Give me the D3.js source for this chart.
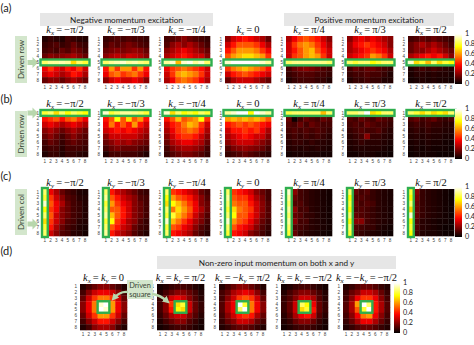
<!DOCTYPE html>
<html><head><meta charset="utf-8">
<script src="https://cdn.jsdelivr.net/npm/d3@7"></script>
<style>body{margin:0;background:#fff;} svg{display:block;}</style>
</head><body>
<svg id="c" width="474" height="345"></svg>
<script>
const ticks = [1,2,3,4,5,6,7,8];
const cbTicks = [0,0.2,0.4,0.6,0.8,1];
const titlesA = ["k_x = −π/2","k_x = −π/3","k_x = −π/4","k_x = 0","k_x = π/4","k_x = π/3","k_x = π/2"];
const titlesB = ["k_x = −π/2","k_x = −π/3","k_x = −π/4","k_x = 0","k_x = π/4","k_x = π/3","k_x = π/2"];
const titlesC = ["k_y = −π/2","k_y = −π/3","k_y = −π/4","k_y = 0","k_y = π/4","k_y = π/3","k_y = π/2"];
const titlesD = ["k_x = k_y = 0","k_x = k_y = π/2","k_x = −k_y = π/2","k_x = k_y = −π/2","k_x = −k_y = −π/2"];
const headers = ["Negative momentum excitation","Positive momentum excitation","Non-zero input momentum on both x and y"];

const dataA = [
[[0.05,0.08,0.06,0.05,0.1,0.08,0.06,0.05],[0.08,0.1,0.12,0.08,0.1,0.15,0.1,0.08],[0.1,0.12,0.1,0.15,0.12,0.18,0.15,0.1],[0.15,0.2,0.18,0.2,0.22,0.25,0.2,0.15],[0.85,0.9,0.9,0.92,0.9,0.7,0.85,0.8],[0.35,0.45,0.35,0.3,0.4,0.35,0.45,0.3],[0.3,0.35,0.3,0.25,0.3,0.4,0.35,0.25],[0.15,0.2,0.2,0.15,0.2,0.25,0.2,0.15]],
[[0.08,0.1,0.12,0.1,0.12,0.1,0.1,0.08],[0.1,0.15,0.12,0.15,0.18,0.15,0.12,0.1],[0.15,0.18,0.2,0.18,0.2,0.22,0.2,0.15],[0.2,0.25,0.28,0.25,0.3,0.28,0.25,0.2],[0.85,0.9,0.92,0.95,0.9,0.92,0.88,0.85],[0.4,0.6,0.45,0.6,0.6,0.45,0.6,0.4],[0.35,0.5,0.55,0.45,0.5,0.55,0.45,0.35],[0.2,0.3,0.35,0.3,0.3,0.35,0.3,0.2]],
[[0.1,0.12,0.15,0.2,0.15,0.12,0.1,0.08],[0.12,0.2,0.25,0.2,0.25,0.2,0.15,0.1],[0.2,0.25,0.3,0.35,0.3,0.25,0.2,0.15],[0.25,0.3,0.35,0.4,0.35,0.3,0.3,0.2],[0.9,0.95,0.65,0.95,0.98,0.9,0.95,0.85],[0.35,0.45,0.5,0.55,0.5,0.45,0.4,0.3],[0.3,0.45,0.6,0.65,0.6,0.55,0.45,0.3],[0.25,0.35,0.5,0.55,0.5,0.45,0.35,0.25]],
[[0.2,0.3,0.35,0.4,0.35,0.3,0.25,0.15],[0.3,0.4,0.5,0.5,0.5,0.45,0.35,0.25],[0.4,0.5,0.6,0.6,0.6,0.55,0.45,0.35],[0.5,0.6,0.65,0.7,0.7,0.65,0.6,0.45],[0.95,1,1,1,1,1,0.95,0.9],[0.45,0.55,0.6,0.65,0.6,0.55,0.5,0.4],[0.3,0.4,0.45,0.5,0.45,0.4,0.35,0.3],[0.15,0.25,0.3,0.3,0.3,0.25,0.2,0.15]],
[[0.25,0.35,0.45,0.5,0.45,0.4,0.3,0.2],[0.3,0.45,0.55,0.6,0.55,0.45,0.35,0.25],[0.3,0.4,0.5,0.6,0.65,0.5,0.4,0.3],[0.3,0.45,0.5,0.6,0.65,0.6,0.45,0.3],[0.85,0.88,0.88,0.88,0.88,0.88,0.88,0.85],[0.1,0.15,0.18,0.2,0.18,0.15,0.12,0.1],[0.08,0.1,0.12,0.12,0.12,0.1,0.1,0.08],[0.05,0.08,0.1,0.1,0.1,0.08,0.08,0.05]],
[[0.2,0.3,0.35,0.3,0.35,0.3,0.25,0.2],[0.25,0.35,0.4,0.45,0.4,0.35,0.3,0.2],[0.25,0.3,0.35,0.4,0.45,0.4,0.35,0.25],[0.3,0.35,0.4,0.45,0.6,0.55,0.45,0.3],[0.85,0.8,0.85,0.85,0.75,0.8,0.85,0.85],[0.1,0.15,0.12,0.15,0.15,0.12,0.1,0.08],[0.08,0.1,0.1,0.12,0.1,0.1,0.08,0.05],[0.05,0.08,0.08,0.1,0.08,0.08,0.05,0.05]],
[[0.1,0.12,0.15,0.12,0.15,0.12,0.1,0.08],[0.15,0.2,0.25,0.2,0.25,0.2,0.15,0.1],[0.15,0.2,0.2,0.25,0.3,0.25,0.2,0.15],[0.25,0.3,0.35,0.4,0.35,0.4,0.3,0.2],[0.95,0.7,0.8,0.65,0.85,0.7,0.8,0.75],[0.05,0.08,0.1,0.08,0.1,0.08,0.06,0.05],[0.04,0.06,0.06,0.05,0.06,0.05,0.05,0.04],[0.03,0.04,0.05,0.04,0.05,0.04,0.04,0.03]]
];

const dataB = [
[[0.8,0.85,0.7,0.85,0.75,0.85,0.8,0.75],[0.4,0.45,0.5,0.4,0.5,0.55,0.45,0.35],[0.3,0.35,0.3,0.25,0.3,0.35,0.3,0.25],[0.2,0.25,0.2,0.15,0.2,0.25,0.2,0.15],[0.15,0.2,0.15,0.1,0.15,0.2,0.15,0.12],[0.1,0.15,0.12,0.08,0.12,0.15,0.12,0.1],[0.08,0.1,0.1,0.06,0.1,0.1,0.1,0.08],[0.05,0.08,0.08,0.05,0.08,0.08,0.06,0.05]],
[[0.95,0.8,0.85,0.9,0.9,0.88,0.85,0.8],[0.4,0.5,0.75,0.5,0.7,0.5,0.6,0.4],[0.35,0.55,0.4,0.5,0.4,0.6,0.4,0.3],[0.3,0.35,0.4,0.35,0.4,0.35,0.3,0.25],[0.2,0.3,0.3,0.3,0.3,0.3,0.25,0.2],[0.15,0.2,0.25,0.22,0.25,0.2,0.18,0.15],[0.1,0.15,0.18,0.15,0.15,0.15,0.12,0.1],[0.05,0.1,0.1,0.1,0.1,0.1,0.08,0.05]],
[[0.95,0.7,0.85,0.75,0.8,0.75,0.85,0.8],[0.4,0.5,0.65,0.5,0.55,0.6,0.75,0.45],[0.3,0.4,0.45,0.55,0.65,0.6,0.45,0.3],[0.25,0.35,0.45,0.5,0.55,0.5,0.4,0.25],[0.2,0.3,0.4,0.45,0.45,0.4,0.3,0.2],[0.15,0.25,0.3,0.35,0.35,0.3,0.25,0.15],[0.1,0.18,0.22,0.25,0.25,0.22,0.18,0.1],[0.08,0.12,0.15,0.18,0.18,0.15,0.12,0.08]],
[[0.9,0.95,1,1,0.75,1,0.95,0.9],[0.6,0.65,0.6,0.65,0.6,0.65,0.6,0.5],[0.4,0.45,0.5,0.45,0.5,0.45,0.4,0.35],[0.3,0.4,0.4,0.45,0.4,0.45,0.35,0.25],[0.25,0.3,0.35,0.4,0.35,0.3,0.3,0.2],[0.2,0.25,0.3,0.3,0.3,0.25,0.2,0.15],[0.12,0.18,0.2,0.22,0.2,0.18,0.15,0.1],[0.08,0.1,0.12,0.15,0.12,0.1,0.08,0.06]],
[[0.82,0.85,0.85,0.85,0.85,0.85,0.65,0.85],[0.15,0.02,0.1,0.15,0.12,0.1,0.15,0.12],[0.12,0.1,0.15,0.1,0.15,0.12,0.1,0.1],[0.1,0.12,0.1,0.12,0.1,0.12,0.1,0.08],[0.08,0.1,0.08,0.1,0.08,0.1,0.08,0.06],[0.06,0.08,0.08,0.06,0.08,0.06,0.06,0.05],[0.05,0.06,0.05,0.06,0.05,0.06,0.05,0.04],[0.03,0.04,0.04,0.04,0.04,0.04,0.03,0.03]],
[[0.85,0.85,0.9,1,0.7,0.75,0.85,0.85],[0.12,0.1,0.15,0.12,0.1,0.15,0.12,0.1],[0.1,0.12,0.1,0.15,0.12,0.1,0.1,0.08],[0.08,0.1,0.12,0.1,0.1,0.12,0.08,0.06],[0.06,0.08,0.1,0.2,0.08,0.08,0.06,0.05],[0.05,0.06,0.08,0.06,0.06,0.06,0.05,0.04],[0.04,0.05,0.05,0.05,0.05,0.05,0.04,0.03],[0.03,0.03,0.04,0.04,0.04,0.03,0.03,0.02]],
[[0.85,0.8,0.7,0.8,0.7,0.75,0.7,0.85],[0.12,0.15,0.1,0.12,0.15,0.1,0.08,0.1],[0.08,0.1,0.08,0.1,0.08,0.08,0.06,0.06],[0.06,0.08,0.06,0.08,0.06,0.06,0.05,0.05],[0.05,0.06,0.05,0.06,0.05,0.05,0.04,0.04],[0.04,0.05,0.04,0.05,0.04,0.04,0.03,0.03],[0.03,0.04,0.03,0.04,0.03,0.03,0.03,0.02],[0.02,0.03,0.03,0.03,0.03,0.02,0.02,0.02]]
];

const dataC = [
[[0.85,0.35,0.25,0.15,0.1,0.08,0.05,0.04],[0.8,0.45,0.3,0.2,0.12,0.1,0.06,0.05],[0.95,0.5,0.35,0.25,0.15,0.1,0.08,0.05],[0.75,0.45,0.35,0.2,0.15,0.1,0.08,0.05],[0.85,0.5,0.3,0.2,0.15,0.1,0.08,0.05],[0.7,0.45,0.3,0.2,0.12,0.1,0.06,0.05],[0.8,0.4,0.25,0.15,0.1,0.08,0.05,0.04],[0.85,0.3,0.2,0.12,0.1,0.06,0.05,0.03]],
[[0.85,0.4,0.3,0.25,0.2,0.15,0.1,0.08],[0.9,0.5,0.4,0.3,0.25,0.2,0.12,0.1],[0.8,0.6,0.45,0.35,0.3,0.2,0.15,0.1],[0.85,0.5,0.5,0.4,0.3,0.2,0.15,0.1],[0.9,0.65,0.5,0.4,0.3,0.2,0.15,0.1],[0.8,0.75,0.45,0.35,0.25,0.2,0.12,0.08],[0.85,0.5,0.4,0.3,0.25,0.15,0.1,0.08],[0.9,0.4,0.3,0.25,0.2,0.12,0.08,0.05]],
[[0.85,0.45,0.4,0.35,0.3,0.25,0.15,0.1],[0.75,0.6,0.5,0.45,0.4,0.3,0.2,0.12],[0.7,0.75,0.65,0.55,0.45,0.35,0.2,0.15],[0.85,0.55,0.7,0.6,0.5,0.35,0.25,0.15],[0.8,0.8,0.65,0.55,0.45,0.3,0.2,0.12],[0.95,0.65,0.55,0.45,0.35,0.25,0.18,0.1],[0.8,0.5,0.45,0.35,0.3,0.2,0.12,0.08],[0.85,0.4,0.35,0.3,0.25,0.15,0.1,0.06]],
[[0.85,0.45,0.4,0.35,0.3,0.2,0.15,0.1],[0.9,0.5,0.45,0.45,0.35,0.25,0.18,0.1],[0.85,0.55,0.5,0.5,0.4,0.3,0.2,0.12],[0.8,0.7,0.55,0.5,0.45,0.3,0.2,0.12],[0.85,0.75,0.5,0.5,0.4,0.3,0.18,0.12],[0.95,0.6,0.5,0.45,0.35,0.25,0.15,0.1],[0.85,0.5,0.4,0.35,0.3,0.2,0.12,0.08],[0.8,0.4,0.35,0.3,0.2,0.15,0.1,0.06]],
[[0.95,0.2,0.1,0.08,0.06,0.05,0.04,0.03],[0.9,0.15,0.1,0.08,0.06,0.05,0.04,0.03],[0.85,0.12,0.12,0.08,0.06,0.05,0.04,0.03],[0.9,0.2,0.1,0.1,0.06,0.05,0.04,0.03],[0.85,0.15,0.12,0.08,0.07,0.05,0.04,0.03],[0.9,0.2,0.1,0.1,0.06,0.05,0.04,0.03],[0.85,0.12,0.1,0.08,0.06,0.05,0.04,0.03],[0.8,0.15,0.08,0.06,0.05,0.04,0.03,0.02]],
[[0.85,0.15,0.1,0.12,0.08,0.06,0.05,0.04],[0.75,0.12,0.12,0.1,0.08,0.06,0.05,0.04],[0.8,0.15,0.1,0.12,0.1,0.06,0.05,0.04],[0.75,0.12,0.12,0.1,0.08,0.06,0.05,0.04],[0.85,0.15,0.12,0.1,0.08,0.06,0.05,0.04],[0.75,0.2,0.2,0.1,0.08,0.06,0.05,0.04],[0.85,0.12,0.1,0.08,0.08,0.05,0.04,0.03],[0.8,0.1,0.08,0.06,0.05,0.04,0.03,0.02]],
[[0.8,0.2,0.08,0.06,0.05,0.04,0.03,0.02],[0.75,0.18,0.08,0.06,0.05,0.04,0.03,0.02],[0.85,0.15,0.08,0.06,0.05,0.04,0.03,0.02],[0.7,0.15,0.08,0.06,0.05,0.04,0.03,0.02],[0.95,0.15,0.08,0.06,0.05,0.04,0.03,0.02],[0.75,0.12,0.06,0.05,0.04,0.03,0.03,0.02],[0.8,0.12,0.06,0.05,0.04,0.03,0.02,0.02],[0.75,0.1,0.05,0.04,0.04,0.03,0.02,0.02]]
];

const dataD = [
[[0.05,0.1,0.15,0.2,0.2,0.15,0.1,0.05],[0.1,0.2,0.3,0.35,0.35,0.3,0.2,0.1],[0.15,0.3,0.45,0.55,0.55,0.45,0.3,0.15],[0.2,0.35,0.55,0.95,1,0.6,0.35,0.2],[0.2,0.35,0.55,1,0.95,0.6,0.35,0.2],[0.15,0.3,0.45,0.6,0.6,0.45,0.3,0.15],[0.1,0.2,0.3,0.4,0.4,0.3,0.2,0.1],[0.05,0.1,0.2,0.25,0.25,0.2,0.1,0.05]],
[[0.03,0.05,0.08,0.1,0.1,0.08,0.05,0.03],[0.05,0.1,0.15,0.2,0.2,0.15,0.1,0.05],[0.08,0.15,0.3,0.35,0.3,0.2,0.12,0.06],[0.1,0.2,0.45,0.7,0.8,0.3,0.15,0.08],[0.1,0.2,0.4,0.75,0.7,0.3,0.15,0.08],[0.08,0.15,0.25,0.3,0.3,0.2,0.12,0.06],[0.05,0.1,0.15,0.2,0.2,0.12,0.08,0.04],[0.03,0.05,0.08,0.1,0.1,0.08,0.05,0.03]],
[[0.05,0.1,0.15,0.2,0.2,0.15,0.1,0.05],[0.1,0.15,0.25,0.3,0.35,0.3,0.2,0.1],[0.1,0.2,0.3,0.45,0.5,0.45,0.3,0.15],[0.12,0.25,0.35,1,0.8,0.55,0.35,0.2],[0.12,0.25,0.35,0.85,1,0.55,0.35,0.2],[0.1,0.2,0.3,0.4,0.45,0.4,0.25,0.15],[0.08,0.15,0.2,0.3,0.3,0.25,0.15,0.1],[0.05,0.08,0.12,0.15,0.15,0.12,0.08,0.05]],
[[0.03,0.05,0.08,0.1,0.1,0.08,0.05,0.03],[0.05,0.1,0.15,0.2,0.2,0.15,0.1,0.05],[0.08,0.12,0.2,0.3,0.3,0.25,0.12,0.06],[0.08,0.15,0.3,0.85,0.75,0.35,0.15,0.08],[0.08,0.15,0.3,0.7,0.8,0.4,0.15,0.08],[0.06,0.12,0.25,0.35,0.4,0.3,0.12,0.06],[0.05,0.08,0.15,0.2,0.2,0.15,0.08,0.04],[0.03,0.05,0.08,0.1,0.1,0.08,0.05,0.03]],
[[0.05,0.08,0.12,0.15,0.15,0.12,0.08,0.05],[0.08,0.15,0.2,0.3,0.3,0.25,0.15,0.08],[0.1,0.2,0.35,0.45,0.45,0.35,0.2,0.1],[0.12,0.25,0.6,1,0.85,0.4,0.25,0.12],[0.12,0.25,0.5,0.8,1,0.4,0.25,0.12],[0.1,0.2,0.35,0.55,0.6,0.35,0.2,0.1],[0.08,0.15,0.25,0.35,0.35,0.25,0.15,0.08],[0.05,0.08,0.12,0.15,0.15,0.12,0.08,0.05]]
];

// ---------- drawing ----------
const svg = d3.select("#c");
const GREEN = "#2fae4e";
const LBOX = "#d3e6cc";
const LARROW = "#b8d7ad";

function hot(t){
  t = Math.max(0, Math.min(1, t));
  const r = Math.min(1, t/0.375);
  const g = Math.max(0, Math.min(1, (t-0.375)/0.375));
  const b = Math.max(0, Math.min(1, (t-0.75)/0.25));
  return d3.rgb(r*255, g*255, b*255).toString();
}

const defs = svg.append("defs");
const grad = defs.append("linearGradient").attr("id","hotg").attr("x1",0).attr("y1",1).attr("x2",0).attr("y2",0);
d3.range(0,1.0001,0.05).forEach(t=>grad.append("stop").attr("offset",t).attr("stop-color",hot(t)));
defs.append("marker").attr("id","ah").attr("viewBox","0 0 10 10").attr("refX",5).attr("refY",5)
  .attr("markerWidth",3.2).attr("markerHeight",3.2).attr("orient","auto")
  .append("path").attr("d","M0,0 L10,5 L0,10 Z").attr("fill",LARROW);

function drawTitle(x, y, str){
  const t = svg.append("text").attr("x",x).attr("y",y).attr("text-anchor","middle")
    .attr("font-family","'Liberation Serif', 'DejaVu Serif', serif").attr("font-size",10.5).attr("fill","#111");
  const parts = str.split(/(k_[xy])/);
  let shifted = false;
  parts.forEach(p=>{
    if(!p) return;
    const m = p.match(/^k_([xy])$/);
    if(m){
      t.append("tspan").attr("font-style","italic").attr("dy", shifted ? -2 : 0).text("k");
      t.append("tspan").attr("font-style","italic").attr("font-size",7).attr("dy",2).text(m[1]);
      shifted = true;
    } else {
      t.append("tspan").attr("dy", shifted ? -2 : 0).text(p.replace(/ /g,"\u2009"));
      shifted = false;
    }
  });
}

function drawMap(x0, y0, w, h, mat, title, drive){
  const xs = d3.scaleBand().domain(ticks).range([x0, x0+w]);
  const ys = d3.scaleBand().domain(ticks).range([y0, y0+h]);
  const g = svg.append("g");
  const cells = [];
  mat.forEach((row,i)=>row.forEach((v,j)=>cells.push({r:ticks[i],c:ticks[j],v})));
  g.selectAll("rect").data(cells).join("rect")
    .attr("x",d=>xs(d.c)).attr("y",d=>ys(d.r))
    .attr("width",xs.bandwidth()+0.3).attr("height",ys.bandwidth()+0.3)
    .attr("fill",d=>hot(d.v));
  g.selectAll("text.yt").data(ticks).join("text").attr("class","yt")
    .attr("x",x0-3).attr("y",d=>ys(d)+ys.bandwidth()/2+1.6).attr("text-anchor","end")
    .attr("font-family","'Liberation Sans', Arial, sans-serif").attr("font-size",4.6).attr("fill","#444").text(d=>d);
  g.selectAll("text.xt").data(ticks).join("text").attr("class","xt")
    .attr("x",d=>xs(d)+xs.bandwidth()/2).attr("y",y0+h+5.5).attr("text-anchor","middle")
    .attr("font-family","'Liberation Sans', Arial, sans-serif").attr("font-size",4.6).attr("fill","#444").text(d=>d);
  drawTitle(x0+w/2, y0-3, title);
  let bx, by, bw, bh;
  if(drive.type==="row"){ bx=x0-1.5; bw=w+3; by=ys(drive.i); bh=ys.bandwidth(); }
  else if(drive.type==="col"){ bx=xs(drive.i); bw=xs.bandwidth(); by=y0-1; bh=h+2; }
  else { bx=xs(drive.i[0]); bw=xs.bandwidth()*2; by=ys(drive.i[0]); bh=ys.bandwidth()*2; }
  g.append("rect").attr("x",bx).attr("y",by).attr("width",bw).attr("height",bh)
    .attr("fill","none").attr("stroke",GREEN).attr("stroke-width",2.4);
}

function drawColorbar(x, y0, y1, w){
  svg.append("rect").attr("x",x).attr("y",y0).attr("width",w).attr("height",y1-y0).attr("fill","url(#hotg)");
  const s = d3.scaleLinear().domain([0,1]).range([y1,y0]);
  svg.selectAll(null).data(cbTicks).join("text")
    .attr("x",x+w+3).attr("y",d=>s(d)+2.4)
    .attr("font-family","'Lato', 'Liberation Sans', sans-serif").attr("font-size",7.2).attr("fill","#222")
    .text(d=>d===0?"0":d===1?"1":d.toFixed(1));
}

function header(x, y, w, h, txt){
  svg.append("rect").attr("x",x).attr("y",y).attr("width",w).attr("height",h).attr("fill","#e6e6e6");
  svg.append("text").attr("x",x+w/2).attr("y",y+h/2+3).attr("text-anchor","middle")
    .attr("font-family","'Lato', 'Open Sans', sans-serif").attr("font-size",8.2).attr("fill","#222").text(txt);
}

function sideLabel(x, y0, y1, txt, ay){
  svg.append("rect").attr("x",x).attr("y",y0).attr("width",12).attr("height",y1-y0).attr("fill",LBOX);
  svg.append("text").attr("transform",`translate(${x+8.8},${(y0+y1)/2}) rotate(-90)`).attr("text-anchor","middle")
    .attr("font-family","'Lato', 'Open Sans', sans-serif").attr("font-size",8).attr("fill","#3a4636").text(txt);
  const ax = x+12.5;
  svg.append("path").attr("d",`M${ax},${ay-2.5} L${ax+5},${ay-2.5} L${ax+5},${ay-5.5} L${ax+10.5},${ay} L${ax+5},${ay+5.5} L${ax+5},${ay+2.5} L${ax},${ay+2.5} Z`)
    .attr("fill",LARROW);
}

function panelLabel(y, t){
  svg.append("text").attr("x",0.5).attr("y",y).attr("font-family","'Lato', 'Open Sans', sans-serif")
    .attr("font-size",11).attr("fill","#222").text(t);
}

const colX = d3.scaleLinear().domain([0,6]).range([42,408]);
const rowDx = d3.scaleLinear().domain([1,4]).range([157,343]);
const S = 46, H = 47;

// (a)
panelLabel(12,"(a)");
header(40,13,173,13,headers[0]);
header(284,13,170,13,headers[1]);
sideLabel(15,36,83,"Driven row",36+4.5*H/8);
dataA.forEach((m,i)=>drawMap(colX(i),36,S,H,m,titlesA[i],{type:"row",i:5}));
drawColorbar(455,34,84,7);

// (b)
panelLabel(103,"(b)");
sideLabel(15,111,157,"Driven row",110+0.5*H/8);
dataB.forEach((m,i)=>drawMap(colX(i),110,S,H,m,titlesB[i],{type:"row",i:1}));
drawColorbar(455,109,159,7);

// (c)
panelLabel(180,"(c)");
sideLabel(15,189,235,"Driven col",224);
dataC.forEach((m,i)=>drawMap(colX(i),189,S,H,m,titlesC[i],{type:"col",i:1}));
drawColorbar(455,187,237,7);

// (d)
panelLabel(255,"(d)");
header(157,256,239,13,headers[2]);
const dX = [80].concat([1,2,3,4].map(k=>rowDx(k)));
dataD.forEach((m,i)=>drawMap(dX[i],284,47,46,m,titlesD[i],{type:"sq",i:[4,5]}));
drawColorbar(394,283,333,6);

// Driven square label
svg.append("rect").attr("x",127).attr("y",280).attr("width",26).attr("height",19).attr("fill",LBOX);
svg.append("text").attr("x",140).attr("y",288).attr("text-anchor","middle")
  .attr("font-family","'Lato', 'Open Sans', sans-serif").attr("font-size",7.4).attr("fill","#3a4636").text("Driven");
svg.append("text").attr("x",140).attr("y",296.5).attr("text-anchor","middle")
  .attr("font-family","'Lato', 'Open Sans', sans-serif").attr("font-size",7.4).attr("fill","#3a4636").text("square");
svg.append("path").attr("d","M128,292 Q120,291 114,298").attr("fill","none").attr("stroke",LARROW).attr("stroke-width",2.3).attr("marker-end","url(#ah)");
svg.append("path").attr("d","M152,294 Q160,295 167,301").attr("fill","none").attr("stroke",LARROW).attr("stroke-width",2.3).attr("marker-end","url(#ah)");
</script>
</body></html>
